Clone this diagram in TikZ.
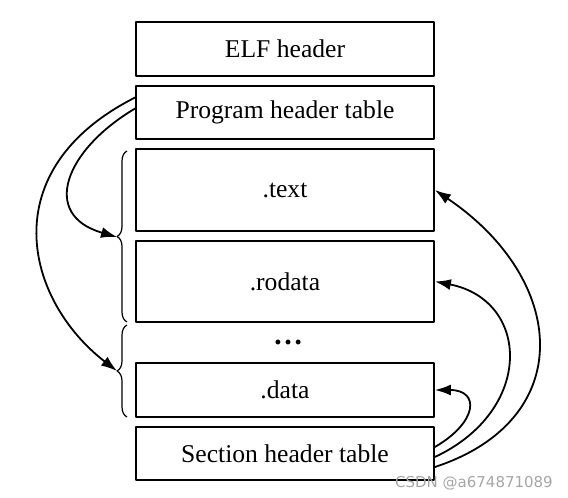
\documentclass[tikz,border=0pt]{standalone}
\usepackage{fontspec}
\setmainfont{Liberation Serif}
\newfontfamily\marksans{DejaVu Sans}
\usetikzlibrary{arrows.meta,decorations.pathreplacing}
\begin{document}
\begin{tikzpicture}[x=0.5pt,y=-0.5pt,>={Latex[length=8pt,width=5.5pt]},line join=bevel,
  seg/.style={draw,line width=0.9pt,minimum width=149pt,inner sep=0pt,font=\fontsize{12.8}{15}\selectfont},
  link/.style={line width=0.9pt,->},
  brc/.style={line width=0.6pt,decorate,decoration={brace,amplitude=5pt}}]
\useasboundingbox (0,0) rectangle (568,498);
%%
 \node (node_elf) at (285,49) [seg,minimum height=27pt] {ELF header};
 \node (node_phdr) at (285,112.5) [seg,minimum height=26.5pt] {Program header table};
 \node (node_text) at (285,190) [seg,minimum height=41pt] {.text};
 \node (node_rodata) at (285,281.5) [seg,minimum height=40.5pt] {.rodata};
 \node (node_dots) at (288,342) [font=\fontsize{15}{15}\selectfont\bfseries] {…};
 \node (node_data) at (285,390) [seg,minimum height=27pt] {.data};
 \node (node_shdr) at (285,453.5) [seg,minimum height=26.5pt] {Section header table};
 \node (node_mark) at (474,483) [text=gray!70,font=\marksans\fontsize{7.5}{9}\selectfont] {CSDN @a674871089};
%
 \draw [brc] (127,322) -- (127,151);
 \draw [brc] (127,417) -- (127,325);
 \coordinate (tip_0) at (117,237);
 \coordinate (tip_1) at (117,371);
%
  \draw [link] ([yshift=7.5pt]node_phdr.west) .. controls (-8,170) and (25,300) .. (tip_1);
  \draw [link] ([yshift=2pt]node_phdr.west) .. controls (65,150) and (40,215) .. (tip_0);
  \draw [link] ([yshift=-6.75pt]node_shdr.east) .. controls (578,420) and (568,280) .. (node_text.east);
  \draw [link] ([yshift=-1.75pt]node_shdr.east) .. controls (535,410) and (530,300) .. (node_rodata.east);
  \draw [link] ([yshift=3.25pt]node_shdr.east) .. controls (478,422) and (480,390) .. (node_data.east);
%
\end{tikzpicture}
\end{document}
